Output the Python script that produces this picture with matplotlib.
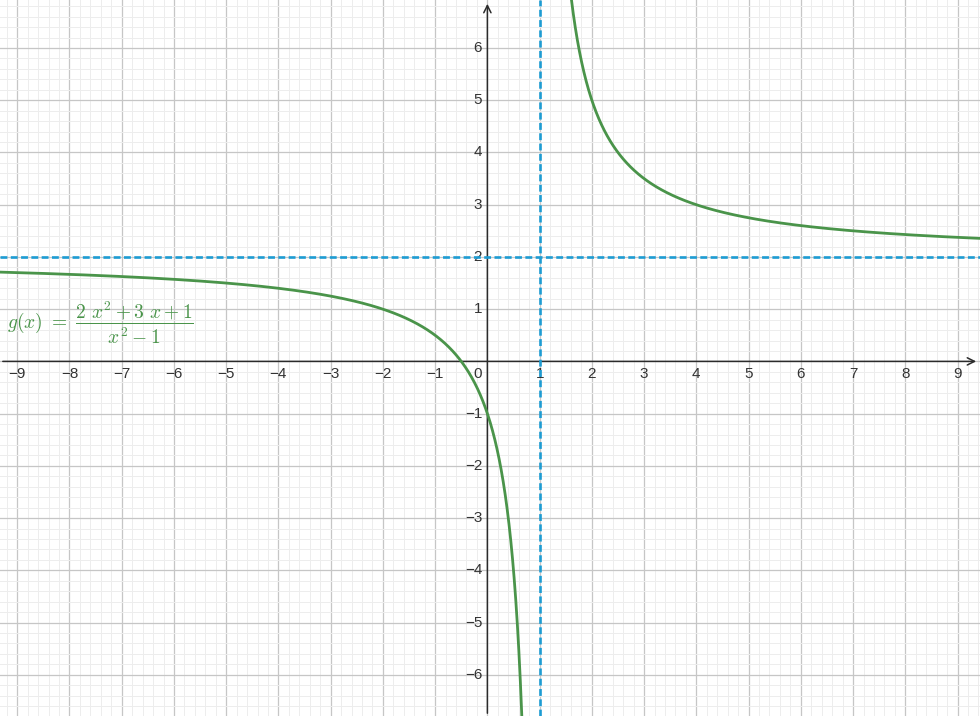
import numpy as np
import matplotlib
matplotlib.use("Agg")
import matplotlib.pyplot as plt
from matplotlib.ticker import MultipleLocator

# g(x) = (2x^2 + 3x + 1) / (x^2 - 1)
num_coeffs = [2, 3, 1]
den_coeffs = [1, 0, -1]
vertical_asymptote = 1.0
horizontal_asymptote = 2.0
x_ticks = list(range(-9, 10))
y_ticks = list(range(-6, 7))
formula = r"$g(x)\ =\ \dfrac{2\ x^2+3\ x+1}{x^2-1}$"

XLIM = (-9.33, 9.43)
YLIM = (-6.79, 6.92)
GREEN = "#4a944a"
BLUE = "#1d9cd3"
AXIS_C = "#2b2b2b"
LABEL_C = "#333333"

plt.rcParams["mathtext.fontset"] = "cm"
plt.rcParams["font.family"] = ["Liberation Sans", "DejaVu Sans"]

fig = plt.figure(figsize=(9.8, 7.16), dpi=100)
ax = fig.add_axes([0, 0, 1, 1])
ax.set_xlim(*XLIM)
ax.set_ylim(*YLIM)

# grid
ax.xaxis.set_major_locator(MultipleLocator(1))
ax.yaxis.set_major_locator(MultipleLocator(1))
ax.xaxis.set_minor_locator(MultipleLocator(0.2))
ax.yaxis.set_minor_locator(MultipleLocator(0.2))
ax.grid(which="minor", color="#ededed", lw=0.7, zorder=0)
ax.grid(which="major", color="#c6c6c6", lw=0.9, zorder=0)
ax.tick_params(which="both", length=0, labelbottom=False, labelleft=False)
for s in ax.spines.values():
    s.set_visible(False)

# axes with arrows
ax.annotate("", xy=(XLIM[1] - 0.02, 0), xytext=(XLIM[0], 0),
            arrowprops=dict(arrowstyle="->", color=AXIS_C, lw=1.1,
                            mutation_scale=13), zorder=3)
ax.annotate("", xy=(0, YLIM[1] - 0.02), xytext=(0, YLIM[0]),
            arrowprops=dict(arrowstyle="->", color=AXIS_C, lw=1.1,
                            mutation_scale=13), zorder=3)

# tick labels
for t in x_ticks:
    if t == 0:
        continue
    lab = str(t).replace("-", "\u2212")
    ax.text(t, -0.1, lab, ha="center", va="top", fontsize=11,
            color=LABEL_C, zorder=4)
for t in y_ticks:
    if t == 0:
        continue
    lab = str(t).replace("-", "\u2212")
    ax.text(-0.1, t, lab, ha="right", va="center", fontsize=11,
            color=LABEL_C, zorder=4)
ax.text(-0.1, -0.1, "0", ha="right", va="top", fontsize=11,
        color=LABEL_C, zorder=4)

# asymptotes
ax.axvline(vertical_asymptote, color=BLUE, lw=1.9, dashes=(2.6, 1.3), zorder=5)
ax.axhline(horizontal_asymptote, color=BLUE, lw=1.9, dashes=(2.6, 1.3), zorder=5)

# curve, split at the vertical asymptote
for lo, hi in [(XLIM[0], vertical_asymptote - 1e-4), (vertical_asymptote + 1e-4, XLIM[1])]:
    xs = np.linspace(lo, hi, 4000)
    ys = np.polyval(num_coeffs, xs) / np.polyval(den_coeffs, xs)
    ys = np.where(np.abs(ys) > 50, np.nan, ys)
    ax.plot(xs, ys, color=GREEN, lw=2.0, zorder=6, solid_capstyle="round")

ax.text(-9.2, 0.74, formula, color=GREEN, fontsize=14, ha="left",
        va="center", zorder=7)

fig.savefig("out.png", dpi=100)
